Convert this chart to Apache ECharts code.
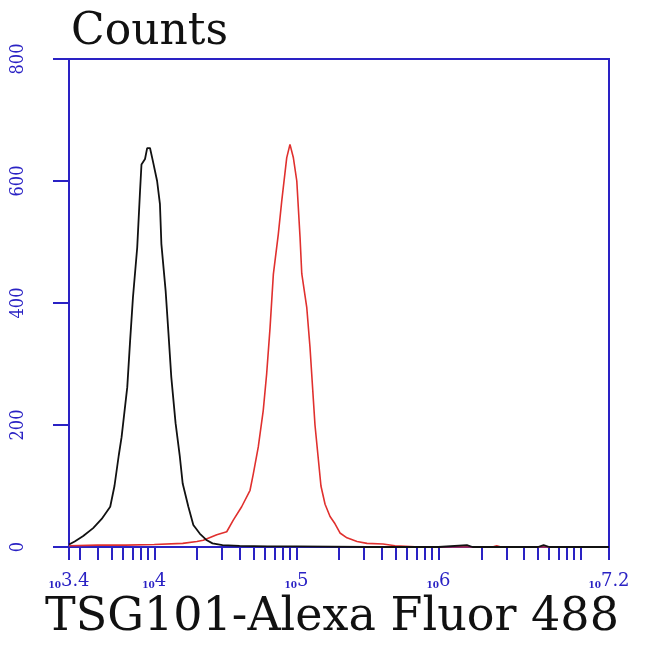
<!DOCTYPE html>
<html>
<head>
<meta charset="utf-8">
<script src="https://cdn.jsdelivr.net/npm/echarts@6/dist/echarts.min.js"></script>
<style>html,body{margin:0;padding:0;background:#fff}#c{width:650px;height:650px}</style>
</head>
<body>
<div id="c"></div>
<script>
// x values are log10(fluorescence intensity)
const blackX = [3.40,3.44,3.50,3.57,3.63,3.69,3.72,3.75,3.77,3.81,3.83,3.85,3.88,3.90,3.91,3.935,3.95,3.97,3.99,4.02,4.04,4.05,4.08,4.10,4.12,4.15,4.18,4.20,4.24,4.275,4.32,4.37,4.41,4.48,4.60,4.80,5.00,5.50,6.00,6.20,6.24,6.70,6.74,6.78,7.20];
const blackCounts = [4,9,18,31,46,66,100,150,180,262,338,409,491,584,627,636,654,654,633,600,562,497,420,350,278,203,148,104,66,36,22,11,6,3,2,1,1,0,0,3,0,0,3,0,0];
const redX = [3.40,3.60,3.80,4.00,4.20,4.30,4.345,4.44,4.51,4.556,4.615,4.674,4.697,4.732,4.767,4.791,4.815,4.838,4.873,4.897,4.932,4.955,4.979,5.003,5.026,5.038,5.073,5.096,5.131,5.152,5.173,5.202,5.237,5.272,5.307,5.356,5.427,5.497,5.61,5.694,5.87,6.38,6.41,6.44,7.20];
const redCounts = [2,3,3,4,6,9,11,20,25,44,66,93,120,164,224,284,360,447,513,567,638,660,638,600,507,448,393,327,200,150,100,70,50,38,23,15,9,6,5,2,0,0,2,0,0];
const yTicks = [0,200,400,600,800];
const xLabelExps = [3.4,4,5,6,7.2];
const xMinorMultipliers = [1,2,3,4,5,6,7,8,9];
const xDecades = [3,4,5,6,7];

const BLUE = '#2a22c4';
const xMin = 3.4, xMax = 7.2;
const tickVals = [xMin, xMax];
xDecades.forEach(d => xMinorMultipliers.forEach(m => {
  const v = d + Math.log10(m);
  if (v > xMin + 1e-6 && v < xMax - 1e-6) tickVals.push(v);
}));

const zip = (xs, ys) => xs.map((x, i) => [x, ys[i]]);

const chart = echarts.init(document.getElementById('c'), null, {renderer: 'canvas'});
chart.setOption({
  animation: false,
  backgroundColor: '#fff',
  title: {
    text: 'Counts', left: 66, top: 6,
    textStyle: {fontFamily: 'DejaVu Serif', fontSize: 44, fontWeight: 'normal', color: '#111'}
  },
  grid: {left: 69, right: 41, top: 59, bottom: 103, show: true, borderColor: BLUE, borderWidth: 2, backgroundColor: 'transparent'},
  xAxis: {
    type: 'value', min: xMin, max: xMax,
    name: 'TSG101-Alexa Fluor 488', nameLocation: 'middle', nameGap: 44,
    nameTextStyle: {fontFamily: 'DejaVu Serif', fontSize: 46, color: '#111', padding: [0, 14, 0, 0]},
    axisLine: {lineStyle: {color: BLUE, width: 2}},
    axisTick: {show: true, inside: false, length: 13, customValues: tickVals, lineStyle: {color: BLUE, width: 2}},
    splitLine: {show: false},
    axisLabel: {
      customValues: xLabelExps, margin: 25,
      formatter: v => '{b|10}{e|' + (Math.round(v * 10) / 10) + '}',
      rich: {
        b: {fontSize: 9, fontFamily: 'DejaVu Serif', fontWeight: 'bold', color: BLUE, verticalAlign: 'bottom', lineHeight: 18},
        e: {fontSize: 18, fontFamily: 'DejaVu Serif', fontWeight: 'normal', color: BLUE, verticalAlign: 'top', lineHeight: 18}
      }
    }
  },
  yAxis: {
    type: 'value', min: 0, max: 800, interval: 200,
    axisLine: {show: true, lineStyle: {color: BLUE, width: 2}},
    axisTick: {show: true, inside: false, length: 16, lineStyle: {color: BLUE, width: 2}},
    splitLine: {show: false},
    axisLabel: {rotate: 90, margin: 42, fontSize: 18, fontFamily: 'DejaVu Serif Condensed, DejaVu Serif', fontWeight: 'normal', color: BLUE,
      formatter: v => yTicks.includes(v) ? String(v) : ''}
  },
  series: [
    {type: 'line', data: zip(redX, redCounts), symbol: 'none', lineStyle: {color: '#e0302e', width: 1.6}, z: 3},
    {type: 'line', data: zip(blackX, blackCounts), symbol: 'none', lineStyle: {color: '#111', width: 1.8}, z: 4}
  ]
});
</script>
</body>
</html>
